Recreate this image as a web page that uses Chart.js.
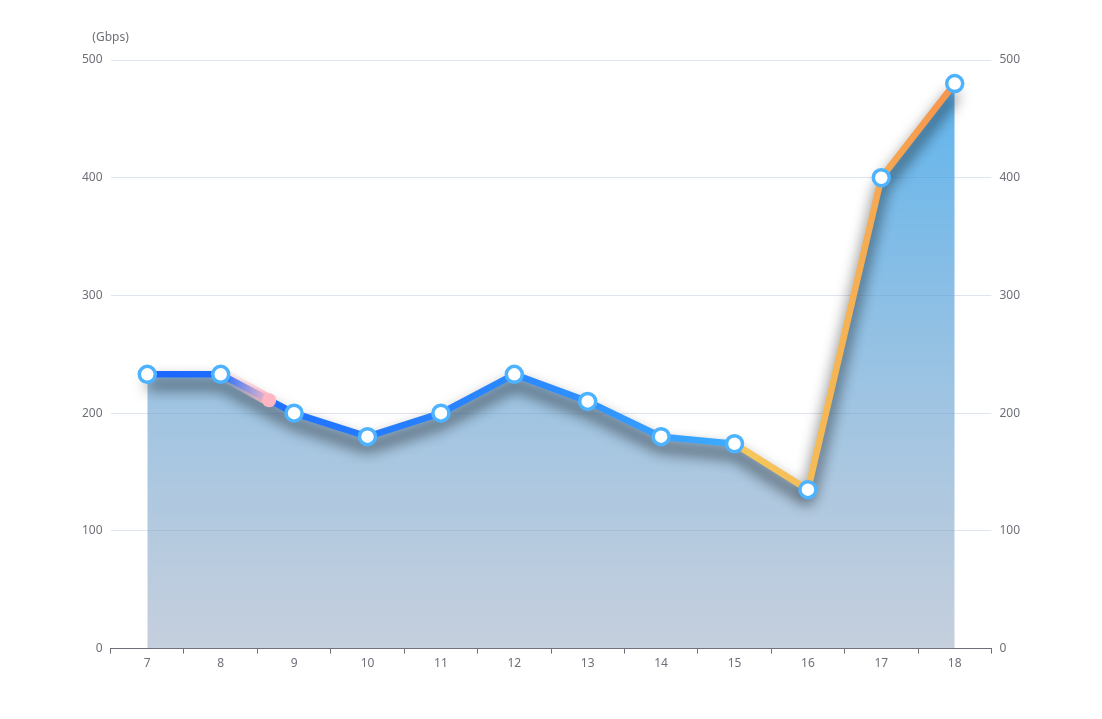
<!DOCTYPE html>
<html>
<head>
<meta charset="utf-8">
<script src="https://cdn.jsdelivr.net/npm/chart.js@4.4.1/dist/chart.umd.min.js"></script>
<style>
  html, body { margin: 0; padding: 0; background: #fff; }
  #wrap { width: 1102px; height: 719px; }
</style>
</head>
<body>
<div id="wrap"><canvas id="trafficChart"></canvas></div>
<script>
// chart data
const hours = ['7', '8', '9', '10', '11', '12', '13', '14', '15', '16', '17', '18'];
const traffic = [233, 233, 200, 180, 200, 233, 210, 180, 174, 135, 400, 480];
const yTicks = [0, 100, 200, 300, 400, 500];
const unitLabel = '(Gbps)';

// moving highlight on the line between 8 and 9
const trailX = [8.08, 8.66];
const trailY = [231, 211];

const ctx = document.getElementById('trafficChart').getContext('2d');
const labelColor = '#6e7079';
const fontFamily = "'Noto Sans', 'DejaVu Sans', sans-serif";

// gradient for the area under the line
function areaGradient(chart) {
    const area = chart.chartArea;
    if (!area) return 'rgba(91,181,239,0.6)';
    const g = chart.ctx.createLinearGradient(0, area.top + 20, 0, area.bottom);
    g.addColorStop(0, 'rgba(40,155,232,0.75)');
    g.addColorStop(1, 'rgba(140,160,188,0.5)');
    return g;
}

// left-to-right colour of the line: blue, then yellow, then orange
function lineGradient(chart) {
    const area = chart.chartArea;
    if (!area) return '#2a80ff';
    const g = chart.ctx.createLinearGradient(area.left, 0, area.right, 0);
    g.addColorStop(0, '#1a62ff');
    g.addColorStop(0.5, '#2c8cff');
    g.addColorStop(0.7, '#3cabff');
    g.addColorStop(0.705, '#f6ca5c');
    g.addColorStop(0.8, '#f5bb55');
    g.addColorStop(1, '#f8894a');
    return g;
}

function trailGradient(chart) {
    const area = chart.chartArea;
    if (!area) return 'pink';
    const xs = chart.scales.xTrail;
    const g = chart.ctx.createLinearGradient(xs.getPixelForValue(trailX[0]), 0, xs.getPixelForValue(trailX[1]), 0);
    g.addColorStop(0, 'rgba(255,192,203,0.1)');
    g.addColorStop(1, 'rgba(255,182,193,0.95)');
    return g;
}

// drop shadow under the line only
const lineShadow = {
    id: 'lineShadow',
    beforeDatasetDraw(chart, args) {
        if (args.meta.label !== 'line') return;
        const c = chart.ctx;
        c.save();
        c.shadowColor = 'rgba(0,0,0,0.85)';
        c.shadowBlur = 15;
        c.shadowOffsetY = 10;
    },
    afterDatasetDraw(chart, args) {
        if (args.meta.label !== 'line') return;
        chart.ctx.restore();
    }
};

// unit text above the left axis
const unitText = {
    id: 'unitText',
    afterDraw(chart) {
        const c = chart.ctx;
        c.save();
        c.font = '12px ' + fontFamily;
        c.fillStyle = labelColor;
        c.textAlign = 'center';
        c.textBaseline = 'middle';
        c.fillText(unitLabel, chart.scales.y.right, chart.chartArea.top - 22);
        c.restore();
    }
};

new Chart(ctx, {
    type: 'line',
    data: {
        labels: hours,
        datasets: [
            {
                label: 'points',
                data: traffic,
                showLine: false,
                pointRadius: 8,
                pointBorderWidth: 3.5,
                pointBackgroundColor: '#fff',
                pointBorderColor: '#4db3ff',
                order: 0
            },
            {
                label: 'trail',
                data: trailX.map((x, i) => ({ x: x, y: trailY[i] })),
                xAxisID: 'xTrail',
                borderColor: c => trailGradient(c.chart),
                borderWidth: 12,
                borderCapStyle: 'round',
                pointRadius: [0, 7],
                pointBorderWidth: 0,
                pointBackgroundColor: '#ffb6c1',
                order: 1
            },
            {
                label: 'line',
                data: traffic,
                borderColor: c => lineGradient(c.chart),
                borderWidth: 6.5,
                borderJoinStyle: 'round',
                pointRadius: 0,
                fill: false,
                order: 2
            },
            {
                label: 'area',
                data: traffic,
                borderWidth: 0,
                pointRadius: 0,
                backgroundColor: c => areaGradient(c.chart),
                fill: 'origin',
                order: 3
            }
        ]
    },
    options: {
        responsive: true,
        maintainAspectRatio: false,
        animation: false,
        layout: { padding: { left: 74, right: 74, top: 60, bottom: 45 } },
        plugins: {
            legend: { display: false },
            tooltip: { enabled: false }
        },
        scales: {
            x: {
                type: 'category',
                offset: true,
                grid: {
                    offset: true,
                    drawOnChartArea: false,
                    drawTicks: true,
                    tickLength: 5,
                    color: labelColor
                },
                border: { color: labelColor, width: 1 },
                ticks: { color: labelColor, padding: 3, font: { size: 12, family: fontFamily } }
            },
            xTrail: {
                type: 'linear',
                display: false,
                min: 6.5,
                max: 18.5
            },
            y: {
                position: 'left',
                min: 0,
                max: 500,
                afterBuildTicks: s => { s.ticks = yTicks.map(v => ({ value: v })); },
                grid: { color: '#dfe5f0', drawTicks: false },
                border: { display: false },
                ticks: { color: labelColor, padding: 8, font: { size: 12, family: fontFamily } }
            },
            y2: {
                position: 'right',
                min: 0,
                max: 500,
                afterBuildTicks: s => { s.ticks = yTicks.map(v => ({ value: v })); },
                grid: { drawOnChartArea: false, drawTicks: false },
                border: { display: false },
                ticks: { color: labelColor, padding: 8, font: { size: 12, family: fontFamily } }
            }
        }
    },
    plugins: [lineShadow, unitText]
});
</script>
</body>
</html>
